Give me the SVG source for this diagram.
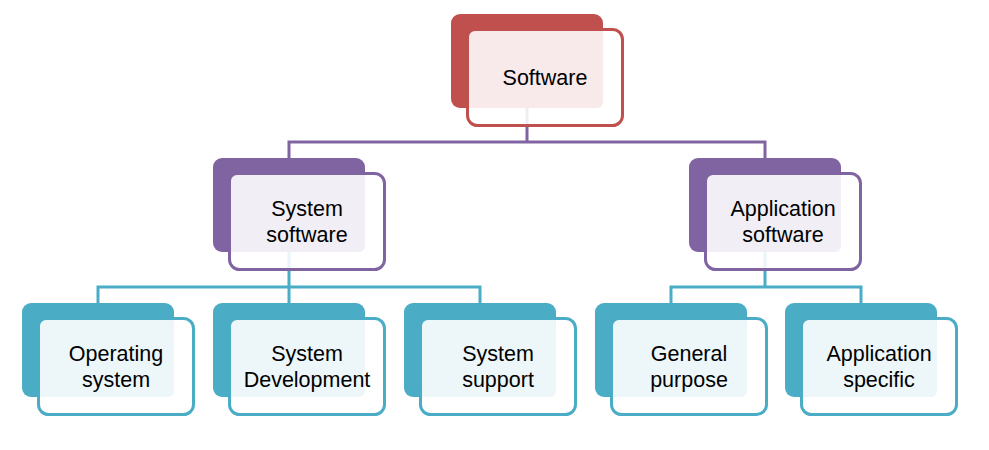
<svg xmlns="http://www.w3.org/2000/svg" width="989" height="450" viewBox="0 0 989 450">
<style>
.bg{fill:#fff}
.conn{fill:none;stroke-width:3}
.cp{stroke:#8064A2}
.ct{stroke:#4BACC6}
.back{stroke:none}
.front{fill:#fff;fill-opacity:0.88;stroke-width:3}
.tint{stroke:none}
.red .back{fill:#C0504D}.red .front{stroke:#C0504D}.red .tint{fill:#F8EAEA}
.pur .back{fill:#8064A2}.pur .front{stroke:#8064A2}.pur .tint{fill:#F1EFF5}
.teal .back{fill:#4BACC6}.teal .front{stroke:#4BACC6}.teal .tint{fill:#EDF6F9}
text{font-family:"Liberation Sans",Arial,sans-serif;font-size:21.5px;fill:#000;text-anchor:middle}
</style>
<rect class="bg" x="0" y="0" width="989" height="450"/>
<g id="connectors">
<path class="conn cp" d="M527,108 V142 M289,158 V142 H765 V158"/>
<path class="conn ct" d="M289,252 V287 M98,303 V287 H480 V303 M289,287 V303"/>
<path class="conn ct" d="M765,252 V287 M671,303 V287 H861 V303"/>
</g>
<g id="software" class="red">
<rect class="back" x="451" y="14" width="152" height="94" rx="9"/>
<rect class="front" x="467.5" y="29.5" width="155" height="96" rx="10"/>
<rect class="tint" x="469" y="31" width="134" height="77" rx="6"/>
<text x="545" y="85">Software</text>
</g>
<g id="system-software" class="pur">
<rect class="back" x="213" y="158" width="152" height="94" rx="9"/>
<rect class="front" x="229.5" y="173.5" width="155" height="96" rx="10"/>
<rect class="tint" x="231" y="175" width="134" height="77" rx="6"/>
<text x="307" y="216">System</text>
<text x="307" y="242">software</text>
</g>
<g id="application-software" class="pur">
<rect class="back" x="689" y="158" width="152" height="94" rx="9"/>
<rect class="front" x="705.5" y="173.5" width="155" height="96" rx="10"/>
<rect class="tint" x="707" y="175" width="134" height="77" rx="6"/>
<text x="783" y="216">Application</text>
<text x="783" y="242">software</text>
</g>
<g id="operating-system" class="teal">
<rect class="back" x="22" y="303" width="152" height="94" rx="9"/>
<rect class="front" x="38.5" y="318.5" width="155" height="96" rx="10"/>
<rect class="tint" x="40" y="320" width="134" height="77" rx="6"/>
<text x="116" y="361">Operating</text>
<text x="116" y="387">system</text>
</g>
<g id="system-development" class="teal">
<rect class="back" x="213" y="303" width="152" height="94" rx="9"/>
<rect class="front" x="229.5" y="318.5" width="155" height="96" rx="10"/>
<rect class="tint" x="231" y="320" width="134" height="77" rx="6"/>
<text x="307" y="361">System</text>
<text x="307" y="387">Development</text>
</g>
<g id="system-support" class="teal">
<rect class="back" x="404" y="303" width="152" height="94" rx="9"/>
<rect class="front" x="420.5" y="318.5" width="155" height="96" rx="10"/>
<rect class="tint" x="422" y="320" width="134" height="77" rx="6"/>
<text x="498" y="361">System</text>
<text x="498" y="387">support</text>
</g>
<g id="general-purpose" class="teal">
<rect class="back" x="595" y="303" width="152" height="94" rx="9"/>
<rect class="front" x="611.5" y="318.5" width="155" height="96" rx="10"/>
<rect class="tint" x="613" y="320" width="134" height="77" rx="6"/>
<text x="689" y="361">General</text>
<text x="689" y="387">purpose</text>
</g>
<g id="application-specific" class="teal">
<rect class="back" x="785" y="303" width="152" height="94" rx="9"/>
<rect class="front" x="801.5" y="318.5" width="155" height="96" rx="10"/>
<rect class="tint" x="803" y="320" width="134" height="77" rx="6"/>
<text x="879" y="361">Application</text>
<text x="879" y="387">specific</text>
</g>
</svg>
